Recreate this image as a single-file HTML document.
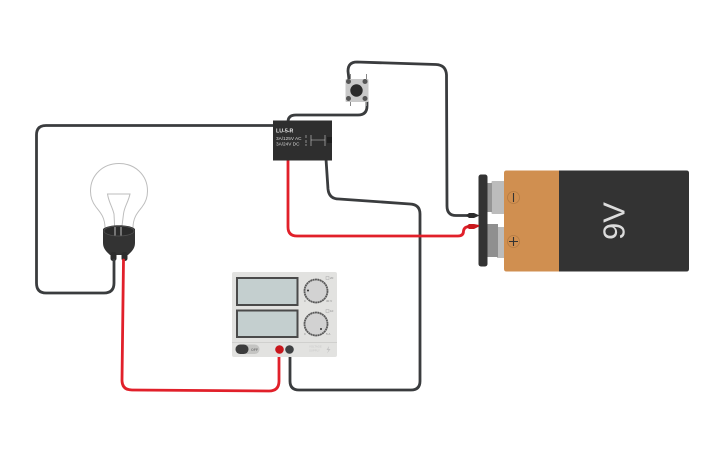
<!DOCTYPE html>
<html>
<head>
<meta charset="utf-8">
<style>
html,body{margin:0;padding:0;background:#fff;width:725px;height:453px;overflow:hidden}
svg{display:block}
text{font-family:"Liberation Sans",sans-serif}
</style>
</head>
<body>
<svg width="725" height="453" viewBox="0 0 725 453" xmlns="http://www.w3.org/2000/svg">
<rect width="725" height="453" fill="#fff"/>

<!-- bulb glass -->
<g fill="none" stroke="#bdbdbd" stroke-width="1">
<path d="M105 228 C105 217 100 212 96 207 C92 202 90.500 197 90.500 191 C90.500 175 103 163.500 119 163.500 C135 163.500 147.500 175 147.500 191 C147.500 197 146 202 142 207 C138 212 133 217 133 228"/>
<path d="M115 234 L114 214 C112 206 109 203 107.500 194 L130 194 C128 203 124.500 206 123.500 214 L121 234"/>
</g>
<!-- bulb socket -->
<path d="M103 229 C108 224 130 224 135 229 L135 243 C135 249 131 252 128 255 L110 255 C107 252 103 249 103 243 Z" fill="#333"/>
<ellipse cx="119" cy="231" rx="15" ry="5" fill="#2b2b2b" stroke="#555" stroke-width=".7"/>
<path d="M115 227 L115 235.500 M121 227 L121 235.500" stroke="#bdbdbd" stroke-width="1"/>
<rect x="110.500" y="252" width="6" height="9" rx="2.500" fill="#2c2c2c"/>
<rect x="121.500" y="252" width="6" height="9" rx="2.500" fill="#2c2c2c"/>

<!-- dark wires -->
<g fill="none" stroke="#3a3c3e" stroke-width="2.800" stroke-linecap="round">
<path d="M273 125.500 L46 125.500 Q36.500 125.500 36.500 135 L36.500 283 Q36.500 293 46 293 L104 293 Q114 293 114 283 L114 260"/>
<path d="M349 80 L348 71 Q348 62 357 62 L436 64.500 Q446 65 446.500 75 L447 206 Q447 215.500 456 215.500 L472 215.500"/>
<path d="M367 100 L367 106 Q367 115 358 115 L296 115 Q288 115 288 122"/>
<path d="M326 159 L328 189 Q329 199 339 199 L410 204 Q420 204.500 420 214 L420 381 Q420 390 411 390 L299 390 Q290 390 290 381 L290 350"/>
</g>
<!-- red wires -->
<g fill="none" stroke="#e1202a" stroke-width="2.800" stroke-linecap="round">
<path d="M288 159 L288 227 Q288 236 297 236 L458 236 Q463.500 236 463.500 231 Q464 226.500 470 226.500"/>
<path d="M123.500 260 L122 380 Q122 390 132 390 L269 391 Q279 391 279 381 L279 350"/>
</g>

<!-- relay -->
<rect x="273" y="120.500" width="59" height="40" fill="#2e2e2e"/>
<text x="276" y="132.500" font-size="5.300" font-weight="bold" fill="#e8e8e8">LU-5-R</text>
<text x="276" y="140" font-size="4.700" fill="#d8d8d8">3A/125V AC</text>
<text x="276" y="145.500" font-size="4.700" fill="#d8d8d8">3A/24V  DC</text>
<g stroke="#ccc" stroke-width=".6" fill="none">
<path d="M306 135 V138 M306 140 V143 M306 144 V146 M311 135 V146 M311 140 H325 M325 135 V146"/>
</g>
<rect x="327" y="137" width="5" height="6" fill="#1f1f1f"/>

<!-- switch -->
<rect x="350" y="74" width="1" height="32" fill="#888"/>
<rect x="366" y="74" width="1" height="32" fill="#888"/>
<rect x="345.500" y="79" width="23" height="23" rx="1" fill="#c9c9c9"/>
<circle cx="356.500" cy="90.500" r="6.200" fill="#2b2b2b"/>
<g fill="#555">
<circle cx="348.500" cy="81.500" r="2.500"/><circle cx="365" cy="81.500" r="2.500"/>
<circle cx="348.500" cy="98.500" r="2.500"/><circle cx="365" cy="98.500" r="2.500"/>
</g>

<!-- power supply -->
<rect x="232" y="272" width="105" height="85" rx="2" fill="#e2e2e0"/>
<rect x="232" y="342" width="105" height="1" fill="#d0d0ce"/>
<rect x="237" y="278" width="60.500" height="27" fill="#c4cfcf" stroke="#4a4a4a" stroke-width="2"/>
<rect x="237" y="310.500" width="60.500" height="26.500" fill="#c4cfcf" stroke="#4a4a4a" stroke-width="2"/>
<circle cx="316" cy="291" r="11.500" fill="#d2d2d2" stroke="#5a5a5a" stroke-width="1.800" stroke-dasharray="2 .4"/>
<circle cx="316" cy="324" r="11.500" fill="#d2d2d2" stroke="#5a5a5a" stroke-width="1.800" stroke-dasharray="2 .4"/>
<circle cx="308" cy="290.500" r="1" fill="#333"/>
<circle cx="321" cy="329" r="1" fill="#333"/>
<g fill="#888" font-size="3">
<text x="304" y="302">0</text><text x="326" y="302">30 V</text>
<text x="304" y="335">0</text><text x="326" y="335">5 A</text>
<text x="330" y="279">20</text><text x="330" y="312">10</text>
</g>
<rect x="326" y="276.500" width="3" height="3" fill="none" stroke="#aaa" stroke-width=".5"/>
<rect x="326" y="309.500" width="3" height="3" fill="none" stroke="#aaa" stroke-width=".5"/>
<rect x="235.500" y="344.500" width="24" height="9.500" rx="4.700" fill="#c4c4c2"/>
<rect x="235.500" y="344.500" width="13" height="9.500" rx="4.700" fill="#3c3c3c"/>
<text x="251" y="351" font-size="3.500" font-weight="bold" fill="#777">OFF</text>
<text x="309" y="347.500" font-size="2.800" fill="#c8c8c8">VOLTAGE</text>
<text x="309" y="351.500" font-size="2.800" fill="#c8c8c8">SUPPLY</text>
<path d="M329 346 L326.500 350 L328.500 350 L327 353.500 L330.500 349 L328.500 349 Z" fill="#c4c4c4"/>
<circle cx="279.500" cy="349.500" r="4.300" fill="#c8161c"/>
<circle cx="289.500" cy="349.500" r="4.300" fill="#3f4143"/>

<!-- battery -->
<rect x="491.500" y="181" width="13" height="33" rx="1" fill="#bcbcbc"/>
<rect x="487" y="183" width="5" height="29" fill="#959595"/>
<rect x="497" y="227" width="8" height="31" fill="#bcbcbc"/>
<rect x="487" y="224" width="11" height="33" fill="#8f8f8f"/>
<rect x="478.500" y="174.500" width="9" height="92" rx="2.500" fill="#333"/>
<path d="M506.500 170.500 H559 V271.500 H506.500 Q504 271.500 504 269 V173 Q504 170.500 506.500 170.500 Z" fill="#d08f50"/>
<path d="M559 170.500 H686.500 Q689 170.500 689 173 V269 Q689 271.500 686.500 271.500 H559 Z" fill="#333"/>
<circle cx="513.500" cy="197.500" r="6" fill="none" stroke="#b27a44" stroke-width=".8"/>
<circle cx="513.500" cy="241.500" r="6" fill="none" stroke="#b27a44" stroke-width=".8"/>
<path d="M513.500 193 V202" stroke="#333" stroke-width="1.100"/>
<path d="M513.500 237 V246 M509 241.500 H518" stroke="#333" stroke-width="1.100"/>
<text x="0" y="0" font-size="31" fill="#dcdcdc" text-anchor="middle" transform="translate(624.500 221) rotate(-90)">9V</text>

<!-- connectors at battery -->
<path d="M466 215.500 L469 213 H474 L478.500 215 V216 L474 218 H469 Z" fill="#2c2c2c"/>
<path d="M466 226.500 L469 224 H474 L479 225 V226.500 L474 229 H469 Z" fill="#c9181d"/>
</svg>
</body>
</html>
